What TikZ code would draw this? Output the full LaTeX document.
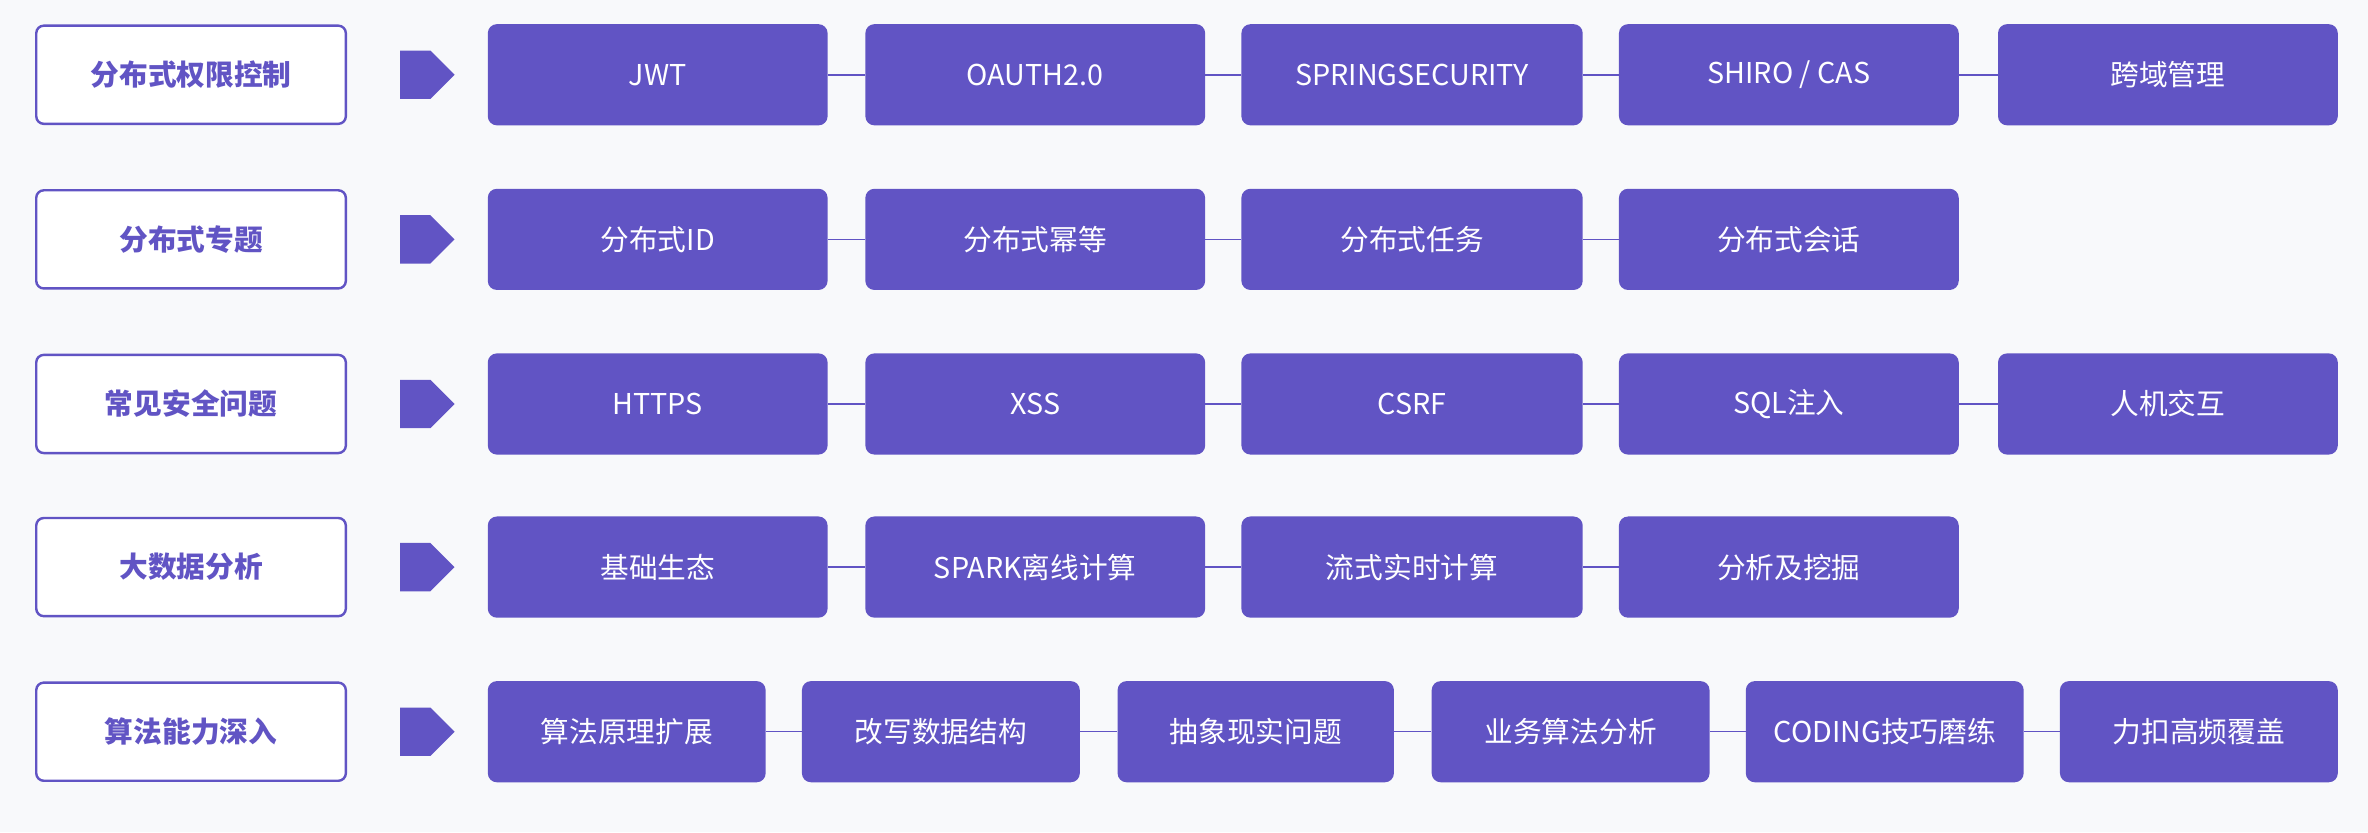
\documentclass[tikz,border=0pt]{standalone}
\usepackage{fontspec}
\setmainfont{Noto Sans CJK SC}
\usetikzlibrary{shapes.arrows}
\definecolor{pur}{HTML}{6154C4}
\definecolor{bg}{HTML}{F8F9FB}
\begin{document}
\begin{tikzpicture}[x=1pt,y=-1pt,
 lbox/.style={draw=pur,line width=1.6pt,fill=white,rounded corners=5pt,text=pur,font=\fontsize{19}{22}\selectfont\bfseries},
 rbox/.style={fill=pur,rounded corners=6pt,text=white,font=\fontsize{19}{22}\selectfont},
 conn/.style={draw=pur,line width=1pt},
 arr/.style={single arrow,fill=pur,minimum width=32pt,single arrow head extend=0pt,minimum height=36pt,inner sep=0pt,single arrow tip angle=90}]
\fill[bg] (0,0) rectangle (1568,551);
\useasboundingbox (0,0) rectangle (1568,551);
\def\ys{{49.5,158.5,267.5,375.5,484.5}}
\newcommand\lrow[3]{%
 \node[lbox,minimum width=205pt,minimum height=65pt] (L#1) at (126.5,#2) {#3};
 \node[arr] (A#1) at (275,#2) {};}
\newcommand\rb[5]{\node[rbox,minimum width=#4pt,minimum height=67pt] (#1) at (#2,#3) {#5};}
% row 1
\lrow{1}{49.5}{分布式权限控制}
\rb{a1}{435.5}{49.5}{225}{JWT}
\rb{a2}{685.5}{49.5}{225}{OAUTH2.0}
\rb{a3}{935}{49.5}{226}{SPRINGSECURITY}
\rb{a4}{1184.5}{49.5}{225}{SHIRO / CAS}
\rb{a5}{1435.5}{49.5}{225}{跨域管理}
\foreach \p/\q in {a1/a2,a2/a3,a3/a4,a4/a5} \draw[conn] (\p) -- (\q);
% row 2
\lrow{2}{158.5}{分布式专题}
\rb{b1}{435.5}{158.5}{225}{分布式ID}
\rb{b2}{685.5}{158.5}{225}{分布式幂等}
\rb{b3}{935}{158.5}{226}{分布式任务}
\rb{b4}{1184.5}{158.5}{225}{分布式会话}
\foreach \p/\q in {b1/b2,b2/b3,b3/b4} \draw[conn] (\p) -- (\q);
% row 3
\lrow{3}{267.5}{常见安全问题}
\rb{c1}{435.5}{267.5}{225}{HTTPS}
\rb{c2}{685.5}{267.5}{225}{XSS}
\rb{c3}{935}{267.5}{226}{CSRF}
\rb{c4}{1184.5}{267.5}{225}{SQL注入}
\rb{c5}{1435.5}{267.5}{225}{人机交互}
\foreach \p/\q in {c1/c2,c2/c3,c3/c4,c4/c5} \draw[conn] (\p) -- (\q);
% row 4
\lrow{4}{375.5}{大数据分析}
\rb{d1}{435.5}{375.5}{225}{基础生态}
\rb{d2}{685.5}{375.5}{225}{SPARK离线计算}
\rb{d3}{935}{375.5}{226}{流式实时计算}
\rb{d4}{1184.5}{375.5}{225}{分析及挖掘}
\foreach \p/\q in {d1/d2,d2/d3,d3/d4} \draw[conn] (\p) -- (\q);
% row 5
\lrow{5}{484.5}{算法能力深入}
\rb{e1}{415}{484.5}{184}{算法原理扩展}
\rb{e2}{623}{484.5}{184}{改写数据结构}
\rb{e3}{831.5}{484.5}{183}{抽象现实问题}
\rb{e4}{1040}{484.5}{184}{业务算法分析}
\rb{e5}{1248}{484.5}{184}{CODING技巧磨练}
\rb{e6}{1456}{484.5}{184}{力扣高频覆盖}
\foreach \p/\q in {e1/e2,e2/e3,e3/e4,e4/e5,e5/e6} \draw[conn] (\p) -- (\q);
\end{tikzpicture}
\end{document}
